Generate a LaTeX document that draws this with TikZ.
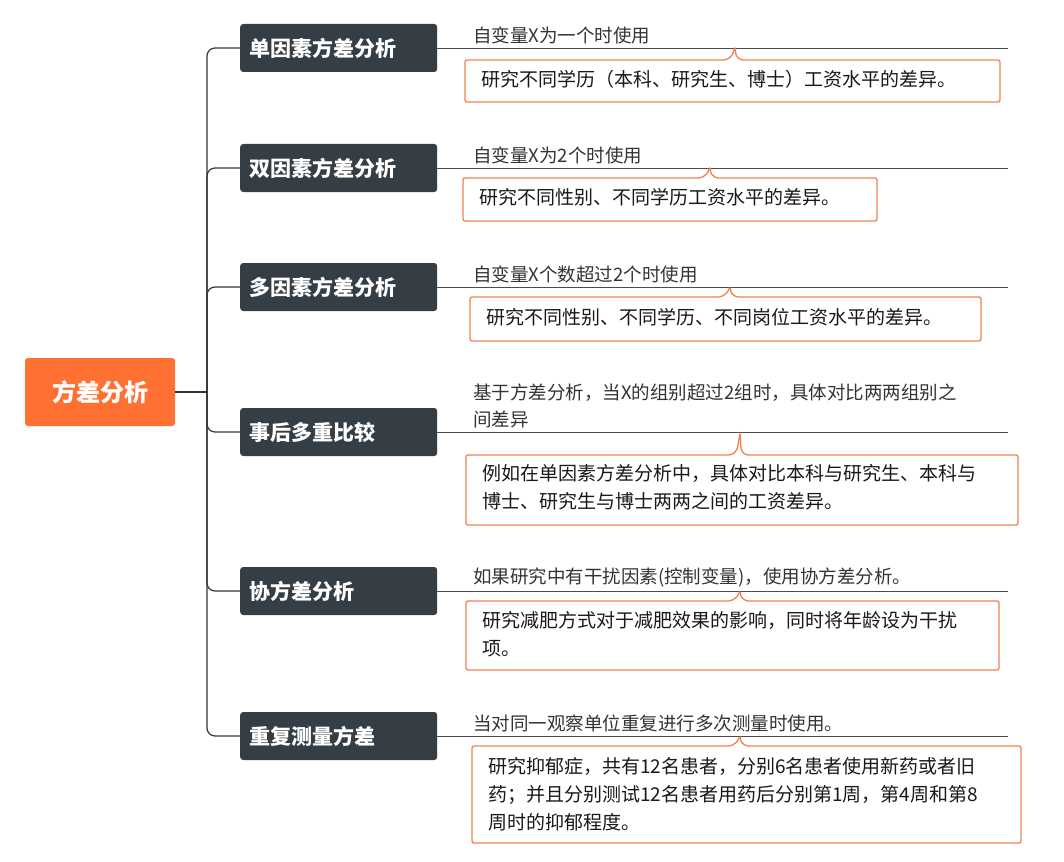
\documentclass[tikz,border=0pt]{standalone}
\usepackage{fontspec}
\setmainfont{Noto Sans CJK SC}
\begin{document}
\begin{tikzpicture}[x=1pt,y=-1pt,
  root/.style={fill={rgb,255:red,255;green,112;blue,51},text=white,font=\bfseries\fontsize{24}{28}\selectfont,minimum width=150pt,minimum height=68pt,rounded corners=3pt,inner sep=0pt},
  br/.style={fill={rgb,255:red,53;green,62;blue,69},text=white,font=\bfseries\fontsize{21}{24}\selectfont,minimum width=197pt,minimum height=48pt,rounded corners=3pt,inner sep=0pt,anchor=west,align=left,text width=179pt},
  lab/.style={font=\fontsize{18.5}{27}\selectfont,anchor=south west,inner sep=1pt,text=black!80,align=left},
  co/.style={font=\fontsize{19}{28}\selectfont,anchor=north west,inner sep=0pt,align=left,text=black!90},
  cobox/.style={draw={rgb,255:red,240;green,130;blue,80},line width=1.3pt,rounded corners=2pt,fill=white},
  conn/.style={draw=black!80,line width=1.2pt,rounded corners=8pt},
  uline/.style={draw=black!70,line width=0.8pt}]
\useasboundingbox (0,0) rectangle (1064,861);
\node[root] (r) at (100,392) {方差分析};
\coordinate (t) at (207,392);
\draw[conn] (r.east) -- (t);
\foreach \n/\y/\txt in {1/48/单因素方差分析,2/168/双因素方差分析,3/287/多因素方差分析,4/432/事后多重比较,5/591/协方差分析,6/736/重复测量方差}{
  \node[br] (b\n) at (240,\y) {\txt};
  \draw[conn] (207,392) |- (b\n.west);
  \draw[uline] (b\n.east) -- (1008,\y);
}
\node[lab] (l1) at (472,45) {自变量X为一个时使用};
\node[lab] (l2) at (472,165) {自变量X为2个时使用};
\node[lab] (l3) at (472,284) {自变量X个数超过2个时使用};
\node[lab] (l4) at (472,429) {基于方差分析，当X的组别超过2组时，具体对比两两组别之\\间差异};
\node[lab] (l5) at (472,588) {如果研究中有干扰因素(控制变量)，使用协方差分析。};
\node[lab] (l6) at (472,733) {当对同一观察单位重复进行多次测量时使用。};
\foreach \x/\ya/\xb/\yb/\nx/\nt in {465/60/1000/102/735/47, 463/178/877/221/710/167, 470/297/981/341/730/287, 466/455/1018/525/740/433, 466/601/999/670/740/591, 472/746/1021/843/740/736}{
  \path[cobox] (\x,\ya) -- (\nx-9,\ya) .. controls (\nx-3,\ya-4) .. (\nx,\nt) .. controls (\nx+1,\ya-4) .. (\nx+6,\ya) -- (\xb,\ya) -- (\xb,\yb) -- (\x,\yb) -- cycle;
}
\node[co] (c1) at (481,70) {研究不同学历（本科、研究生、博士）工资水平的差异。};
\node[co] (c2) at (479,188) {研究不同性别、不同学历工资水平的差异。};
\node[co] (c3) at (486,308) {研究不同性别、不同学历、不同岗位工资水平的差异。};
\node[co] (c4) at (482,464) {例如在单因素方差分析中，具体对比本科与研究生、本科与\\博士、研究生与博士两两之间的工资差异。};
\node[co] (c5) at (482,611) {研究减肥方式对于减肥效果的影响，同时将年龄设为干扰\\项。};
\node[co] (c6) at (488,757) {研究抑郁症，共有12名患者，分别6名患者使用新药或者旧\\药；并且分别测试12名患者用药后分别第1周，第4周和第8\\周时的抑郁程度。};
\end{tikzpicture}
\end{document}
